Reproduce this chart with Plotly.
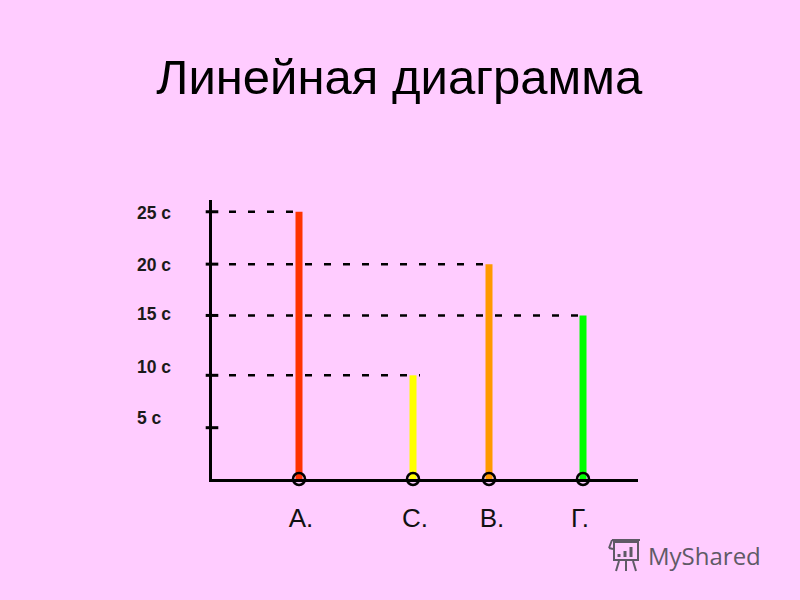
import plotly.graph_objects as go

# categories and values
categories = ['А.', 'С.', 'В.', 'Г.']
category_x = [87, 201, 277, 371]
label_x = [89, 203, 280, 368]
values = [25, 9.7, 20.1, 15.3]
bar_colors = ['#FF3300', '#FFFF00', '#FF9900', '#00FF00']

# the value ticks are hand placed in the original, so they are not evenly spaced
tick_values = [4.8, 9.7, 15.3, 20.1, 25]
tick_labels = ['5 с', '10 с', '15 с', '20 с', '25 с']
label_values = [5.7, 10.5, 15.4, 20.05, 24.9]

# where each dashed guide stops
guide_values = [25, 20.1, 15.3, 9.7]
guide_ends = [83, 273, 368, 208]

# plot area in page pixels
LEFT, RIGHT, TOP, BOTTOM = 212, 638, 200, 479


def px(x):
    return (x - LEFT) / (RIGHT - LEFT)


def py(y):
    return (BOTTOM - y) / (BOTTOM - TOP)


fig = go.Figure()

fig.add_trace(go.Bar(x=category_x, y=values, width=7, marker=dict(color=bar_colors, line_width=0)))

# dashed guides, on top of the bars
for v, end in zip(guide_values, guide_ends):
    fig.add_trace(go.Scatter(x=[17, end], y=[v, v], mode='lines',
                             line=dict(color='black', width=2.5, dash='7px,12px')))

# ticks crossing the vertical axis
fig.add_trace(go.Scatter(x=[0] * len(tick_values), y=tick_values, mode='markers', cliponaxis=False,
                         marker=dict(symbol='line-ew', size=9, line=dict(color='black', width=3))))

# open circles on the baseline
fig.add_trace(go.Scatter(x=category_x, y=[0] * len(category_x), mode='markers', cliponaxis=False,
                         marker=dict(symbol='circle-open', size=12, color='black', line=dict(width=2.5))))

annotations = []
for v, txt in zip(label_values, tick_labels):
    annotations.append(dict(x=px(137), xref='paper', xanchor='left', y=v, yref='y', text='<b>%s</b>' % txt,
                            showarrow=False, font=dict(family='Liberation Sans', size=17.5, color='#1a1a1a'),
                            borderpad=0, xshift=-1))

# watermark
annotations.append(dict(x=px(646), xref='paper', xanchor='left', y=py(555), yref='paper', yanchor='middle',
                        text='MyShared', showarrow=False,
                        font=dict(family='Open Sans', size=24, color='#5f5a66')))

# watermark icon
icon = [
    ('rect', 614, 542, 638, 560, 2), ('line', 609, 548, 612, 540, 2), ('line', 612, 540, 640, 540, 2),
    ('line', 609, 548, 613, 549, 2), ('line', 619, 561, 616, 571, 2), ('line', 626, 561, 626, 571, 2),
    ('line', 633, 561, 636, 571, 2), ('line', 619, 554, 619, 557, 3), ('line', 625, 551, 625, 557, 3),
    ('line', 631, 547, 631, 557, 3),
]
shapes = []
for kind, x0, y0, x1, y1, w in icon:
    shapes.append(dict(type=kind, xref='paper', yref='paper', x0=px(x0), x1=px(x1), y0=py(y0), y1=py(y1),
                       line=dict(color='#5f5a66', width=w)))

fig.update_layout(
    title=dict(text='Линейная диаграмма', x=0.499, xanchor='center', y=1 - 77 / 600, yanchor='middle',
               font=dict(family='Liberation Sans', size=49, color='black')),
    width=800, height=600, autosize=False, showlegend=False,
    paper_bgcolor='#FFCCFF', plot_bgcolor='#FFCCFF',
    margin=dict(l=LEFT, r=800 - RIGHT, t=TOP, b=600 - BOTTOM),
    annotations=annotations, shapes=shapes,
    xaxis=dict(range=[0, 426], tickvals=label_x, ticktext=categories, ticks='', showgrid=False, zeroline=False,
               showline=True, linecolor='black', linewidth=2.5, ticklabelstandoff=14,
               tickfont=dict(family='Liberation Sans', size=26, color='#111111')),
    yaxis=dict(range=[0, 26.1], showticklabels=False, ticks='', showgrid=False, zeroline=False,
               showline=True, linecolor='black', linewidth=2.5),
)

# the page has a default body margin that would shift everything
fig.write_html("out.html", config=dict(displayModeBar=False),
               post_script="document.body.style.margin='0';document.body.style.background='#FFCCFF';")
